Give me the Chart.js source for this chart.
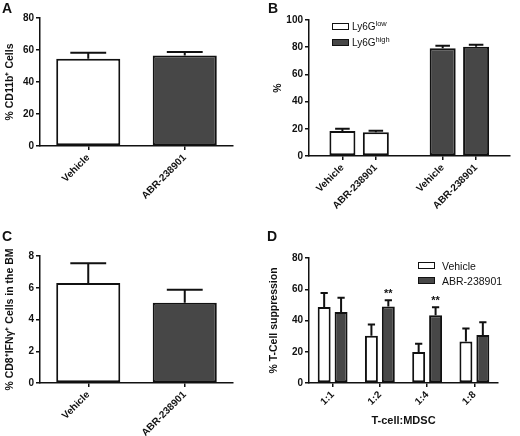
<!DOCTYPE html>
<html>
<head>
<meta charset="utf-8">
<script src="https://cdn.jsdelivr.net/npm/chart.js@4.4.1/dist/chart.umd.min.js"></script>
<style>
body { margin: 0; background: #fff; font-family: "Liberation Sans", Arial, sans-serif; color: #111; }
#fig { position: relative; width: 520px; height: 436px; overflow: hidden; }
canvas { position: absolute; }
.letter { position: absolute; font-weight: bold; font-size: 14px; line-height: 14px; }
.leg { position: absolute; height: 7px; display: flex; align-items: center; white-space: nowrap; }
.leg i { display: inline-block; box-sizing: border-box; width: 17px; height: 7px; border: 1.5px solid #111; }
.leg sup { font-size: 7.5px; line-height: 0; vertical-align: 4px; }
</style>
</head>
<body>
<div id="fig">
  <canvas id="chartA" width="260" height="218" style="left:0;top:0"></canvas>
  <canvas id="chartB" width="260" height="218" style="left:260px;top:0"></canvas>
  <canvas id="chartC" width="260" height="218" style="left:0;top:218px"></canvas>
  <canvas id="chartD" width="260" height="218" style="left:260px;top:218px"></canvas>

  <div class="letter" style="left:2px;top:1px">A</div>
  <div class="letter" style="left:268px;top:1px">B</div>
  <div class="letter" style="left:2px;top:229px">C</div>
  <div class="letter" style="left:267px;top:229px">D</div>

  <div class="leg" style="left:332px;top:23px;font-size:10px"><i style="background:#fff"></i><span style="margin-left:3px">Ly6G<sup>low</sup></span></div>
  <div class="leg" style="left:332px;top:39px;font-size:10px"><i style="background:#474747"></i><span style="margin-left:3px">Ly6G<sup>high</sup></span></div>

  <div class="leg" style="left:418px;top:262px;font-size:10.5px"><i style="background:#fff"></i><span style="margin-left:7px">Vehicle</span></div>
  <div class="leg" style="left:418px;top:277px;font-size:10.5px"><i style="background:#474747"></i><span style="margin-left:7px">ABR-238901</span></div>
</div>
<script>
// treatment groups
var groups = ['Vehicle', 'ABR-238901'];

// A: % CD11b+ cells
var cd11bMean = [54.5, 56.5];
var cd11bErr = [3.8, 2.2];

// B: Ly6G low / high
var ly6gLowMean = [18.4, 17.4];
var ly6gLowErr = [1.6, 1.1];
var ly6gHighMean = [79.2, 80.4];
var ly6gHighErr = [1.8, 1.4];

// C: CD8+IFNg+ cells in the BM
var ifngMean = [6.3, 5.05];
var ifngErr = [1.25, 0.82];

// D: T-cell suppression
var ratios = ['1:1', '1:2', '1:4', '1:8'];
var vehSupp = [48.7, 30.2, 19.8, 26.6];
var vehSuppErr = [8.9, 7.2, 5.3, 8.3];
var abrSupp = [45.5, 48.9, 43.4, 30.8];
var abrSuppErr = [9.0, 4.1, 5.1, 8.1];
var abrSig = ['', '**', '**', ''];

var ink = '#111';
var white = '#ffffff';
var dark = '#474747';

Chart.defaults.font.family = '"Liberation Sans", Arial, sans-serif';
Chart.defaults.color = ink;

var tickFont = { size: 10, weight: 'bold' };
var titleFont = { size: 10.5, weight: 'bold' };

// error bars (upper only) + significance marks
var errorBars = {
  id: 'errorBars',
  afterDatasetsDraw: function(chart) {
    var ctx = chart.ctx;
    var y = chart.scales.y;
    chart.data.datasets.forEach(function(ds, di) {
      var meta = chart.getDatasetMeta(di);
      meta.data.forEach(function(bar, i) {
        var v = ds.data[i];
        if (v == null || !ds.errors) return;
        var top = y.getPixelForValue(v + ds.errors[i]);
        var cap = bar.width * 0.28;
        ctx.save();
        ctx.strokeStyle = ink;
        ctx.lineWidth = 2;
        ctx.beginPath();
        ctx.moveTo(bar.x, bar.y);
        ctx.lineTo(bar.x, top);
        ctx.moveTo(bar.x - cap, top);
        ctx.lineTo(bar.x + cap, top);
        ctx.stroke();
        if (ds.marks && ds.marks[i]) {
          ctx.fillStyle = ink;
          ctx.font = 'bold 11px "Liberation Sans", Arial, sans-serif';
          ctx.textAlign = 'center';
          ctx.fillText(ds.marks[i], bar.x, top - 3);
        }
        ctx.restore();
      });
    });
  }
};

function yScale(max, step, title, width, titlePad) {
  return {
    min: 0, max: max,
    ticks: { stepSize: step, font: tickFont, color: ink, padding: 2 },
    grid: { drawOnChartArea: false, color: ink, tickLength: 4, lineWidth: 1.5 },
    border: { color: ink, width: 1.5 },
    title: { display: true, text: title, font: titleFont, color: ink, padding: { top: titlePad, bottom: 0 } },
    afterFit: function(s) { s.width = width; }
  };
}

function xScale(height, extra) {
  var s = {
    ticks: { font: tickFont, color: ink, minRotation: 45, maxRotation: 45, autoSkip: false, padding: 2 },
    grid: { drawOnChartArea: false, offset: false, color: ink, tickLength: 4, lineWidth: 1.5 },
    border: { color: ink, width: 1.5 },
    afterFit: function(sc) { sc.height = height; }
  };
  for (var k in extra) s[k] = extra[k];
  return s;
}

function baseOptions(pad) {
  return {
    responsive: false,
    animation: false,
    layout: { padding: pad },
    plugins: { legend: { display: false }, tooltip: { enabled: false } },
    datasets: { bar: { borderColor: ink, borderWidth: 2, borderSkipped: false } }
  };
}

// Panel A
var optA = baseOptions({ top: 18, right: 27, left: 0, bottom: 0 });
optA.scales = { x: xScale(72), y: yScale(80, 20, '% CD11b\u207A Cells', 40, 4) };
new Chart(document.getElementById('chartA'), {
  type: 'bar',
  data: {
    labels: groups,
    datasets: [{ data: cd11bMean, errors: cd11bErr, backgroundColor: [white, dark],
      categoryPercentage: 0.8, barPercentage: 0.83 }]
  },
  options: optA,
  plugins: [errorBars]
});

// Panel B: blank slots at both ends and between the two populations
var bLabels = [''].concat(groups, [''], groups, ['']);
var bLow = [null].concat(ly6gLowMean, [null, null, null, null]);
var bLowErr = [null].concat(ly6gLowErr, [null, null, null, null]);
var bHigh = [null, null, null, null].concat(ly6gHighMean, [null]);
var bHighErr = [null, null, null, null].concat(ly6gHighErr, [null]);
var optB = baseOptions({ top: 20, right: 3, left: 0, bottom: 0 });
var xb = xScale(62, { offset: false });
xb.grid.tickColor = function(c) { return bLabels[c.index] ? ink : 'rgba(0,0,0,0)'; };
optB.scales = { x: xb, y: yScale(100, 20, '%', 49, 12) };
new Chart(document.getElementById('chartB'), {
  type: 'bar',
  data: {
    labels: bLabels,
    datasets: [
      { label: 'Ly6G low', data: bLow, errors: bLowErr, backgroundColor: white,
        skipNull: true, categoryPercentage: 0.9, barPercentage: 0.865 },
      { label: 'Ly6G high', data: bHigh, errors: bHighErr, backgroundColor: dark,
        skipNull: true, categoryPercentage: 0.9, barPercentage: 0.865 }
    ]
  },
  options: optB,
  plugins: [errorBars]
});

// Panel C
var optC = baseOptions({ top: 38, right: 27, left: 0, bottom: 0 });
optC.scales = { x: xScale(53), y: yScale(8, 2, '% CD8\u207AIFN\u03B3\u207A Cells in the BM', 40, 4) };
new Chart(document.getElementById('chartC'), {
  type: 'bar',
  data: {
    labels: groups,
    datasets: [{ data: ifngMean, errors: ifngErr, backgroundColor: [white, dark],
      categoryPercentage: 0.8, barPercentage: 0.83 }]
  },
  options: optC,
  plugins: [errorBars]
});

// Panel D
var optD = baseOptions({ top: 40, right: 22, left: 0, bottom: 0 });
optD.scales = {
  x: xScale(53, { title: { display: true, text: 'T-cell:MDSC', font: { size: 11, weight: 'bold' }, color: ink, padding: { top: 0, bottom: 8 } } }),
  y: yScale(80, 20, '% T-Cell suppression', 49, 8)
};
new Chart(document.getElementById('chartD'), {
  type: 'bar',
  data: {
    labels: ratios,
    datasets: [
      { label: 'Vehicle', data: vehSupp, errors: vehSuppErr, backgroundColor: white,
        categoryPercentage: 0.716, barPercentage: 0.765 },
      { label: 'ABR-238901', data: abrSupp, errors: abrSuppErr, marks: abrSig, backgroundColor: dark,
        categoryPercentage: 0.716, barPercentage: 0.765 }
    ]
  },
  options: optD,
  plugins: [errorBars]
});
</script>
</body>
</html>
